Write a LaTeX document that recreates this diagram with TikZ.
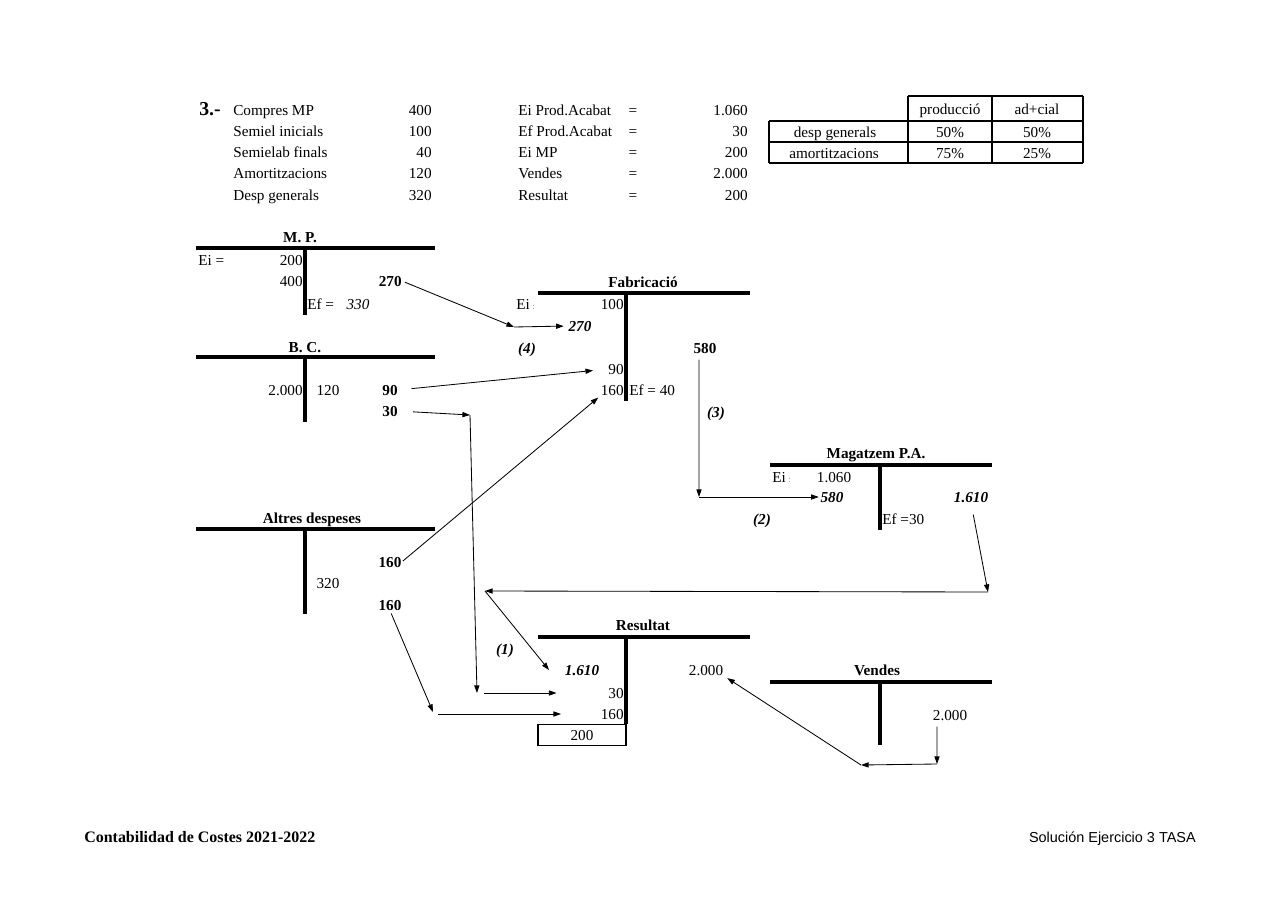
\documentclass[tikz,border=0pt]{standalone}
\usepackage{fontspec}
\setmainfont{Liberation Serif}
\setsansfont{Liberation Sans}
\usetikzlibrary{arrows.meta}

\begin{document}
\begin{tikzpicture}
[
    x=0.6578pt, y=-0.6578pt,
    every node/.style={inner sep=0pt, text height=7pt, text depth=0pt, font=\fontsize{10}{12}\selectfont},
    tline/.style={line width=2.8pt},
    cellline/.style={line width=0.8pt},
    flow/.style={line width=0.55pt, -{Triangle[length=5pt, width=3.4pt]}},
    bnum/.style={font=\fontsize{10}{12}\selectfont\bfseries},
    binum/.style={font=\fontsize{10}{12}\selectfont\bfseries\itshape},
    inum/.style={font=\fontsize{10}{12}\selectfont\itshape},
]
\useasboundingbox (0,0) rectangle (1280,905);

% enunciat
\node[anchor=west, font=\fontsize{13}{15}\selectfont\bfseries] (nr) at (199,110) {3.-};
\foreach \t/\v [count=\i] in {Compres MP/400, Semiel inicials/100, Semielab finals/40, Amortitzacions/120, Desp generals/320}
{
    \node[anchor=west] (dl\i) at (233, 88.8+21.2*\i) {\t};
    \node[anchor=east] (dv\i) at (432, 88.8+21.2*\i) {\v};
}
\foreach \t/\v [count=\i] in {Ei Prod.Acabat/1.060, Ef Prod.Acabat/30, Ei MP/200, Vendes/2.000, Resultat/200}
{
    \node[anchor=west] (el\i) at (518, 88.8+21.2*\i) {\t};
    \node (eq\i) at (633, 88.8+21.2*\i) {=};
    \node[anchor=east] (ev\i) at (748, 88.8+21.2*\i) {\v};
}

% taula
\draw[cellline] (908,96) -- (1083,96) (769,121) -- (1083,121) (769,142) -- (1083,142) (769,163) -- (1083,163);
\draw[cellline] (769,121) -- (769,163) (908,96) -- (908,163) (992,96) -- (992,163) (1083,96) -- (1083,163);
\node (hprod) at (950,109) {producció};
\node (hcial) at (1037,109) {ad+cial};
\node (rdesp) at (835,132) {desp generals};
\node (rdp) at (950,132) {50\%};
\node (rdc) at (1037,132) {50\%};
\node (ramort) at (834,153) {amortitzacions};
\node (rap) at (950,153) {75\%};
\node (rac) at (1037,153) {25\%};

% M. P.
\draw[tline] (196,248) -- (435,248);
\draw[tline] (305,248) -- (305,315);
\node[bnum] (mp) at (300,237) {M. P.};
\node[anchor=west] (mpei) at (198,260) {Ei =};
\node[anchor=east] (mp200) at (303,260) {200};
\node[anchor=east] (mp400) at (303,281) {400};
\node[anchor=west] (mpef) at (307,304) {Ef =};
\node[inum] (mp330) at (358,304) {330};
\node[bnum, anchor=east] (mp270) at (402,281) {270};

% B. C.
\draw[tline] (196,357) -- (435,357);
\draw[tline] (305,357) -- (305,422);
\node[bnum] (bc) at (305,347) {B. C.};
\node[anchor=east] (bc2000) at (303,390) {2.000};
\node (bc120) at (328,390) {120};
\node[bnum] (bc90) at (390,390) {90};
\node[bnum] (bc30) at (390,411) {30};

% Fabricacio
\draw[tline] (538,293) -- (750,293);
\draw[tline] (626,293) -- (626,401);
\node[bnum] (fa) at (643,282) {Fabricació};
\node[anchor=west] (faei) at (516,304) {Ei{\color{gray}\,\fontsize{6}{7}\selectfont:}};
\node[anchor=east] (fa100) at (624,304) {100};
\node[binum] (fa270) at (580,326) {270};
\node[binum] (fa4) at (527,348) {(4)};
\node[bnum] (fa580) at (705,348) {580};
\node[anchor=east] (fa90) at (624,369) {90};
\node[anchor=east] (fa160) at (624,390) {160};
\node[anchor=west] (faef) at (629,390) {Ef = 40};
\node[binum] (fa3) at (716,412) {(3)};

% Magatzem P.A.
\draw[tline] (770,465) -- (992,465);
\draw[tline] (880,465) -- (880,530);
\node[bnum] (ma) at (876,453) {Magatzem P.A.};
\node[anchor=west] (maei) at (772,477) {Ei{\color{gray}\,\fontsize{6}{7}\selectfont:}};
\node (ma1060) at (834,477) {1.060};
\node[binum] (ma580) at (832,497) {580};
\node[binum] (ma1610) at (971,497) {1.610};
\node[binum] (ma2) at (762,519) {(2)};
\node[anchor=west] (maef) at (882,519) {Ef =30};

% Altres despeses
\draw[tline] (196,529) -- (435,529);
\draw[tline] (305,529) -- (305,614);
\node[bnum] (ad) at (312,518) {Altres despeses};
\node[bnum] (ad160a) at (390,562) {160};
\node (ad320) at (328,583) {320};
\node[bnum] (ad160b) at (390,605) {160};

% Resultat
\draw[tline] (538,637) -- (750,637);
\draw[tline] (626,637) -- (626,724);
\node[bnum] (re) at (643,625) {Resultat};
\node[binum] (re1) at (505,649) {(1)};
\node[binum] (re1610) at (582,670) {1.610};
\node[anchor=east] (re30) at (624,693) {30};
\node[anchor=east] (re160) at (624,714) {160};
\node[draw, line width=0.8pt, minimum width=57.9pt, minimum height=14pt] (re200) at (582,735) {200};
\node (re2000) at (706,670) {2.000};

% Vendes
\draw[tline] (770,682) -- (992,682);
\draw[tline] (880,682) -- (880,745);
\node[bnum] (ve) at (877,670) {Vendes};
\node (ve2000) at (950,715) {2.000};

% assentaments
\coordinate (k1) at (514,327);
\draw[flow, shorten <=2pt] (mp270.east) -- (k1);
\draw[flow, shorten >=3pt] (k1) -- (fa270.west);
\draw[flow, shorten <=9pt, shorten >=10pt] (bc90.east) -- (fa90.west);
\draw[flow, shorten <=1pt, shorten >=2pt] (ad160a.east) -- (fa160.south west);

\coordinate (k4a) at (470,415);
\coordinate (k4b) at (477,693);
\coordinate (k4c) at (484,693);
\draw[flow, shorten <=10pt] (bc30.east) -- (k4a);
\draw[flow] (k4a) -- (k4b);
\draw[flow, shorten >=34pt] (k4c) -- (re30.west);

\coordinate (k5a) at (433,712);
\coordinate (k5b) at (438,714);
\draw[flow, shorten <=2pt] (ad160b.south) -- (k5a);
\draw[flow, shorten >=26pt] (k5b) -- (re160.west);

\coordinate (k6a) at (988,592);
\coordinate (k6b) at (485,591);
\coordinate (k6c) at (549,670);
\draw[flow, shorten <=8pt] (ma1610.south) -- (k6a);
\draw[flow] (k6a) -- (k6b);
\draw[flow] (k6b) -- (k6c);

\coordinate (k7) at (699,497);
\draw[flow, shorten <=4pt] ([xshift=-4pt]fa580.south) -- (k7);
\draw[flow, shorten >=1pt] (k7) -- (ma580.west);

\coordinate (k8a) at (937,764);
\coordinate (k8b) at (861,765);
\draw[flow, shorten <=4pt] ([xshift=-8.5pt]ve2000.south) -- (k8a);
\draw[flow] (k8a) -- (k8b);
\draw[flow, shorten >=3pt] (k8b) -- (re2000.south east);

% peu
\node[anchor=west, font=\fontsize{10.5}{12}\selectfont\bfseries] (foot) at (84,837) {Contabilidad de Costes 2021-2022};
\node[anchor=east, font=\sffamily\fontsize{9.5}{11}\selectfont] (tag) at (1196,837) {Solución Ejercicio 3 TASA};
\end{tikzpicture}
\end{document}
